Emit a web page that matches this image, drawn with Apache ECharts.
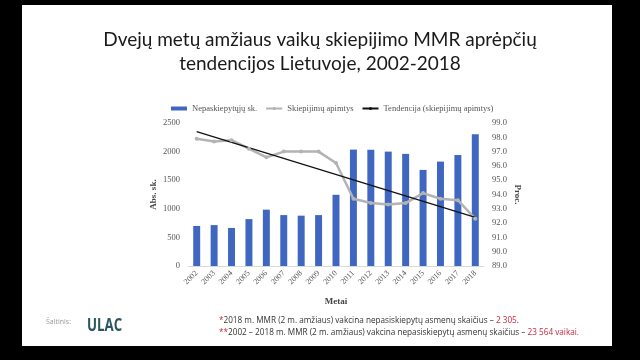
<!DOCTYPE html>
<html><head><meta charset="utf-8">
<script src="https://cdn.jsdelivr.net/npm/echarts@6/dist/echarts.min.js"></script>
<style>html,body{margin:0;padding:0;background:#000}#c{width:640px;height:360px}</style>
</head><body><div id="c"></div>
<script>
const years = ['2002','2003','2004','2005','2006','2007','2008','2009','2010','2011','2012','2013','2014','2015','2016','2017','2018'];
const unvaccinated = [700,715,665,820,985,890,880,890,1245,2035,2032,2000,1960,1680,1825,1940,2305];
const coverage = [97.9,97.7,97.8,97.2,96.6,97.0,97.0,97.0,96.2,93.7,93.4,93.3,93.4,94.1,93.7,93.6,92.3];
const trend = [98.4,null,null,null,null,null,null,null,null,null,null,null,null,null,null,null,92.4];
const leftTicks = [0,500,1000,1500,2000,2500];
const rightTicks = [89,90,91,92,93,94,95,96,97,98,99];

const chart = echarts.init(document.getElementById('c'));
const serif = '"Liberation Serif","DejaVu Serif",serif';
const noteFont = '8.2px "Open Sans",sans-serif';
chart.setOption({
  backgroundColor: '#000',
  animation: false,
  graphic: [
    {type:'rect', z:-10, shape:{x:22,y:5,width:590,height:341}, style:{fill:'#fff'}},
    {type:'text', left:46, top:318, style:{text:'Šaltinis:', font:'7px "Open Sans",sans-serif', fill:'#999'}},
    {type:'text', x:87, y:318, scaleX:0.78, style:{text:'ULAC', font:'bold 17px "Open Sans",sans-serif', fill:'#2b5660'}},
    {type:'text', left:219, top:317, style:{rich:{a:{font:noteFont, fill:'#333'}, r:{font:noteFont, fill:'#c8283c'}},
      text:'{r|*}{a|2018 m. MMR (2 m. amžiaus) vakcina nepasiskiepytų asmenų skaičius – }{r|2 305}{a|.}'}},
    {type:'text', left:219, top:329, style:{rich:{a:{font:noteFont, fill:'#333'}, r:{font:noteFont, fill:'#c8283c'}},
      text:'{r|**}{a|2002 – 2018 m. MMR (2 m. amžiaus) vakcina nepasiskiepytų asmenų skaičius – }{r|23 564 vaikai.}'}}
  ],
  title: {
    text: 'Dvejų metų amžiaus vaikų skiepijimo MMR aprėpčių\ntendencijos Lietuvoje, 2002-2018',
    left: 'center', top: 23,
    textStyle: {fontFamily:'Lato', fontWeight:'normal', fontSize:19, color:'#1a1a1a', lineHeight:24}
  },
  legend: {
    top: 99, left: 166, itemGap: 8, itemWidth: 16, itemHeight: 4,
    textStyle: {fontFamily: serif, fontSize: 8.5, color:'#555'},
    data: [
      {name:'Nepaskiepytųjų sk.', icon:'rect'},
      {name:'Skiepijimų apimtys'},
      {name:'Tendencija (skiepijimų apimtys)'}
    ]
  },
  grid: {left: 188, right: 156, top: 123, bottom: 94},
  xAxis: {
    type:'category', data: years,
    name: 'Metai', nameLocation: 'middle', nameGap: 31,
    nameTextStyle: {fontFamily: serif, fontWeight:'bold', fontSize: 9, color:'#444'},
    axisLine: {lineStyle:{color:'#d9d9d9'}}, axisTick:{show:false},
    axisLabel: {rotate: 45, fontFamily: serif, fontSize: 8, color:'#555', margin: 6}
  },
  yAxis: [
    {type:'value', min:0, max:2500, interval:500,
     name:'Abs. sk.', nameLocation:'middle', nameGap: 30, nameRotate: 90,
     nameTextStyle:{fontFamily: serif, fontWeight:'bold', fontSize: 9, color:'#444'},
     axisLine:{show:false}, axisTick:{show:false}, splitLine:{show:false},
     axisLabel:{fontFamily: serif, fontSize: 8.5, color:'#555',
       formatter: v => leftTicks.includes(v) ? String(v) : ''}},
    {type:'value', min:89, max:99, interval:1,
     name:'Proc.', nameLocation:'middle', nameGap: 29, nameRotate: -90,
     nameTextStyle:{fontFamily: serif, fontWeight:'bold', fontSize: 9, color:'#444'},
     axisLine:{show:false}, axisTick:{show:false}, splitLine:{show:false},
     axisLabel:{fontFamily: serif, fontSize: 8.5, color:'#555',
       formatter: v => rightTicks.includes(v) ? v.toFixed(1) : ''}}
  ],
  series: [
    {name:'Nepaskiepytųjų sk.', type:'bar', data: unvaccinated, barWidth: '40%',
     itemStyle:{color:'#3f66c0'}},
    {name:'Skiepijimų apimtys', type:'line', yAxisIndex:1, data: coverage,
     symbol:'circle', symbolSize:4, lineStyle:{color:'#b3b3b3', width:2.5},
     itemStyle:{color:'#b3b3b3'}},
    {name:'Tendencija (skiepijimų apimtys)', type:'line', yAxisIndex:1, data: trend,
     connectNulls:true, symbol:'none', lineStyle:{color:'#111', width:1.2},
     itemStyle:{color:'#111'}}
  ]
});
</script></body></html>
